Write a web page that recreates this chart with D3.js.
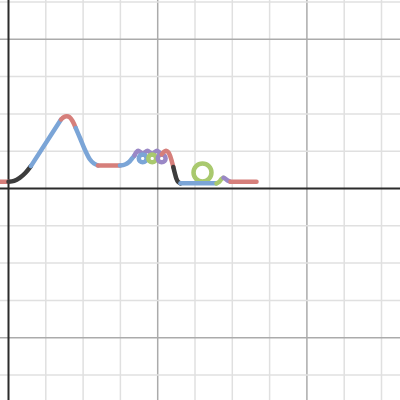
<!DOCTYPE html>
<html>
<head>
<meta charset="utf-8">
<script src="https://cdn.jsdelivr.net/npm/d3@7"></script>
<style>
  html, body { margin: 0; padding: 0; background: #fff; }
  svg { display: block; }
</style>
</head>
<body>
<div id="graph"></div>
<script>
// curve pieces, in grid units (one minor grid square = 1)
const redStart   = [[-0.5, 0.18], [0, 0.18]];
const blackRise  = [[0, 0.18], [0.15, 0.205], [0.3, 0.285], [0.45, 0.415], [0.6, 0.6]];
const blueRamp   = [[0.6, 0.6], [1.408, 1.85]];
const redPeak    = [[1.408, 1.85], [1.488, 1.917], [1.56, 1.936], [1.635, 1.912], [1.716, 1.81], [1.802, 1.622]];
const blueFall   = [[1.802, 1.622], [1.917, 1.354], [2.051, 1.032], [2.185, 0.777], [2.292, 0.67], [2.399, 0.617]];
const redFlat    = [[2.399, 0.617], [2.989, 0.617]];
const blueClimb  = [[2.989, 0.617], [3.123, 0.643], [3.231, 0.71], [3.311, 0.804], [3.378, 0.885]];
const purpleArch1 = [[3.378, 0.885], [3.426, 0.971], [3.477, 1.011], [3.542, 0.971], [3.598, 0.912]];
const purpleArch2 = [[3.598, 0.912], [3.657, 0.971], [3.727, 1.011], [3.791, 0.971], [3.853, 0.912]];
const purpleArch3 = [[3.853, 0.912], [3.912, 0.971], [3.981, 1.011], [4.046, 0.971], [4.107, 0.912]];
const redDrop    = [[4.107, 0.912], [4.164, 0.979], [4.223, 1.011], [4.29, 0.965], [4.343, 0.845], [4.383, 0.71], [4.418, 0.576]];
const blackDrop  = [[4.418, 0.576], [4.458, 0.416], [4.499, 0.268], [4.544, 0.18], [4.611, 0.139]];
const blueBase   = [[4.611, 0.139], [5.576, 0.139]];
const greenBump  = [[5.576, 0.139], [5.643, 0.174], [5.71, 0.255], [5.764, 0.287]];
const purpleBump = [[5.764, 0.287], [5.818, 0.26], [5.885, 0.206], [5.952, 0.18]];
const redEnd     = [[5.952, 0.18], [6.649, 0.18]];

// loops: centre x, centre y, radius
const loopX = [3.598, 3.853, 4.107, 5.201];
const loopY = [0.807, 0.807, 0.807, 0.429];
const loopR = [0.105, 0.105, 0.105, 0.241];

const red = "#d67f7b", blue = "#7ba5d7", black = "#3c3c3c", green = "#a9c96e", purple = "#9a88c6";

const pieces = [
  [redStart, red], [blackRise, black], [blueRamp, blue], [redPeak, red],
  [blueFall, blue], [redFlat, red], [blueClimb, blue],
  [purpleArch1, purple], [purpleArch2, purple], [purpleArch3, purple],
  [redDrop, red], [blackDrop, black], [blueBase, blue],
  [greenBump, green], [purpleBump, purple], [redEnd, red]
];
const loopColors = [blue, green, purple, green];

const width = 400, height = 400;

const x = d3.scaleLinear().domain([-8.5 / 37.3, 391.5 / 37.3]).range([0, width]);
const y = d3.scaleLinear().domain([-211.5 / 37.3, 188.5 / 37.3]).range([height, 0]);

const svg = d3.select("#graph").append("svg")
    .attr("width", width)
    .attr("height", height);

// grid
const xs = d3.range(-5, 11), ys = d3.range(-6, 6);
svg.append("g").selectAll("line")
    .data(xs.filter(d => d !== 0))
    .enter().append("line")
    .attr("x1", d => x(d)).attr("x2", d => x(d))
    .attr("y1", 0).attr("y2", height)
    .attr("stroke", d => d % 4 === 0 ? "#ababab" : "#e0e0e0")
    .attr("stroke-width", 1.5);
svg.append("g").selectAll("line")
    .data(ys.filter(d => d !== 0))
    .enter().append("line")
    .attr("y1", d => y(d)).attr("y2", d => y(d))
    .attr("x1", 0).attr("x2", width)
    .attr("stroke", d => d % 4 === 0 ? "#ababab" : "#e0e0e0")
    .attr("stroke-width", 1.5);

// axes
svg.append("line")
    .attr("x1", 0).attr("x2", width).attr("y1", y(0)).attr("y2", y(0))
    .attr("stroke", "#2b2b2b").attr("stroke-width", 2);
svg.append("line")
    .attr("x1", x(0)).attr("x2", x(0)).attr("y1", 0).attr("y2", height)
    .attr("stroke", "#2b2b2b").attr("stroke-width", 2);

const line = d3.line()
    .x(d => x(d[0]))
    .y(d => y(d[1]))
    .curve(d3.curveCatmullRom.alpha(0.5));

const curves = svg.append("g")
    .attr("fill", "none")
    .attr("stroke-width", 4.5)
    .attr("stroke-linecap", "round")
    .attr("stroke-linejoin", "round");

pieces.slice(0, 10).forEach(p => {
  curves.append("path").attr("d", line(p[0])).attr("stroke", p[1]);
});

curves.selectAll("circle")
    .data(loopX)
    .enter().append("circle")
    .attr("cx", d => x(d))
    .attr("cy", (d, i) => y(loopY[i]))
    .attr("r", (d, i) => x(loopR[i]) - x(0))
    .attr("stroke", (d, i) => loopColors[i]);

pieces.slice(10).forEach(p => {
  curves.append("path").attr("d", line(p[0])).attr("stroke", p[1]);
});
</script>
</body>
</html>
